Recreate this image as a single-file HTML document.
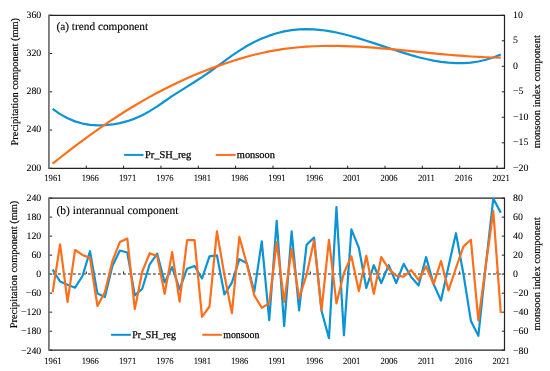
<!DOCTYPE html>
<html><head><meta charset="utf-8"><title>chart</title>
<style>html,body{margin:0;padding:0;background:#fff;}body{width:550px;height:371px;overflow:hidden;}svg{display:block;text-rendering:geometricPrecision;will-change:transform;}</style>
</head><body>
<svg width="550" height="371" viewBox="0 0 550 371" font-family='"Liberation Serif", serif'><rect width="550" height="371" fill="#fff"/><path d="M52.6,108.89 L60.1,114.11 L67.6,118.25 L75.0,121.38 L82.5,123.56 L90.0,124.89 L97.4,125.43 L104.9,125.26 L112.4,124.46 L119.9,123.10 L127.3,121.18 L134.8,118.60 L142.3,115.27 L149.7,111.11 L157.2,106.32 L164.7,101.24 L172.1,96.19 L179.6,91.36 L187.1,86.65 L194.5,81.95 L202.0,77.11 L209.5,72.01 L216.9,66.58 L224.4,61.04 L231.9,55.62 L239.4,50.59 L246.8,46.06 L254.3,42.06 L261.8,38.59 L269.2,35.65 L276.7,33.24 L284.2,31.38 L291.6,30.07 L299.1,29.31 L306.6,29.08 L314.0,29.33 L321.5,30.03 L329.0,31.11 L336.5,32.53 L343.9,34.25 L351.4,36.21 L358.9,38.38 L366.3,40.69 L373.8,43.12 L381.3,45.60 L388.7,48.09 L396.2,50.54 L403.7,52.91 L411.1,55.15 L418.6,57.20 L426.1,59.03 L433.5,60.59 L441.0,61.82 L448.5,62.68 L456.0,63.13 L463.4,63.12 L470.9,62.59 L478.4,61.50 L485.8,59.80 L493.3,57.46 L500.8,54.41" fill="none" stroke="#0a93d5" stroke-width="2.2" stroke-linejoin="round"/><path d="M52.6,163.70 L60.1,157.75 L67.6,151.91 L75.0,146.20 L82.5,140.60 L90.0,135.15 L97.4,129.83 L104.9,124.66 L112.4,119.64 L119.9,114.77 L127.3,110.05 L134.8,105.50 L142.3,101.11 L149.7,96.88 L157.2,92.83 L164.7,88.94 L172.1,85.23 L179.6,81.68 L187.1,78.31 L194.5,75.10 L202.0,72.05 L209.5,69.15 L216.9,66.38 L224.4,63.74 L231.9,61.23 L239.4,58.89 L246.8,56.72 L254.3,54.74 L261.8,52.97 L269.2,51.41 L276.7,50.06 L284.2,48.92 L291.6,47.98 L299.1,47.23 L306.6,46.66 L314.0,46.25 L321.5,46.00 L329.0,45.90 L336.5,45.93 L343.9,46.08 L351.4,46.34 L358.9,46.71 L366.3,47.16 L373.8,47.68 L381.3,48.28 L388.7,48.93 L396.2,49.62 L403.7,50.34 L411.1,51.09 L418.6,51.85 L426.1,52.60 L433.5,53.35 L441.0,54.06 L448.5,54.75 L456.0,55.39 L463.4,55.97 L470.9,56.48 L478.4,56.92 L485.8,57.26 L493.3,57.50 L500.8,57.62" fill="none" stroke="#ff6e1a" stroke-width="2.2" stroke-linejoin="round"/><line x1="48.9" y1="15.30" x2="52.1" y2="15.30" stroke="#222" stroke-width="1"/><text x="41.3" y="17.85" font-size="9.9" text-anchor="end" fill="#000" stroke="#000" stroke-width="0.06">360</text><line x1="48.9" y1="53.55" x2="52.1" y2="53.55" stroke="#222" stroke-width="1"/><text x="41.3" y="56.05" font-size="9.9" text-anchor="end" fill="#000" stroke="#000" stroke-width="0.06">320</text><line x1="48.9" y1="91.80" x2="52.1" y2="91.80" stroke="#222" stroke-width="1"/><text x="41.3" y="94.25" font-size="9.9" text-anchor="end" fill="#000" stroke="#000" stroke-width="0.06">280</text><line x1="48.9" y1="130.05" x2="52.1" y2="130.05" stroke="#222" stroke-width="1"/><text x="41.3" y="132.45" font-size="9.9" text-anchor="end" fill="#000" stroke="#000" stroke-width="0.06">240</text><line x1="48.9" y1="168.30" x2="52.1" y2="168.30" stroke="#222" stroke-width="1"/><text x="41.3" y="170.65" font-size="9.9" text-anchor="end" fill="#000" stroke="#000" stroke-width="0.06">200</text><line x1="501.8" y1="15.30" x2="504.5" y2="15.30" stroke="#222" stroke-width="1"/><text x="513" y="17.85" font-size="9.9" fill="#000" stroke="#000" stroke-width="0.06">10</text><line x1="501.8" y1="40.80" x2="504.5" y2="40.80" stroke="#222" stroke-width="1"/><text x="513" y="43.32" font-size="9.9" fill="#000" stroke="#000" stroke-width="0.06">5</text><line x1="501.8" y1="66.30" x2="504.5" y2="66.30" stroke="#222" stroke-width="1"/><text x="513" y="68.78" font-size="9.9" fill="#000" stroke="#000" stroke-width="0.06">0</text><line x1="501.8" y1="91.80" x2="504.5" y2="91.80" stroke="#222" stroke-width="1"/><text x="513" y="94.25" font-size="9.9" fill="#000" stroke="#000" stroke-width="0.06">−5</text><line x1="501.8" y1="117.30" x2="504.5" y2="117.30" stroke="#222" stroke-width="1"/><text x="513" y="119.72" font-size="9.9" fill="#000" stroke="#000" stroke-width="0.06">−10</text><line x1="501.8" y1="142.80" x2="504.5" y2="142.80" stroke="#222" stroke-width="1"/><text x="513" y="145.18" font-size="9.9" fill="#000" stroke="#000" stroke-width="0.06">−15</text><line x1="501.8" y1="168.30" x2="504.5" y2="168.30" stroke="#222" stroke-width="1"/><text x="513" y="170.65" font-size="9.9" fill="#000" stroke="#000" stroke-width="0.06">−20</text><line x1="86.24" y1="165.70000000000002" x2="86.24" y2="168.3" stroke="#222" stroke-width="1"/><line x1="123.59" y1="165.70000000000002" x2="123.59" y2="168.3" stroke="#222" stroke-width="1"/><line x1="160.93" y1="165.70000000000002" x2="160.93" y2="168.3" stroke="#222" stroke-width="1"/><line x1="198.28" y1="165.70000000000002" x2="198.28" y2="168.3" stroke="#222" stroke-width="1"/><line x1="235.62" y1="165.70000000000002" x2="235.62" y2="168.3" stroke="#222" stroke-width="1"/><line x1="272.97" y1="165.70000000000002" x2="272.97" y2="168.3" stroke="#222" stroke-width="1"/><line x1="310.31" y1="165.70000000000002" x2="310.31" y2="168.3" stroke="#222" stroke-width="1"/><line x1="347.65" y1="165.70000000000002" x2="347.65" y2="168.3" stroke="#222" stroke-width="1"/><line x1="385.00" y1="165.70000000000002" x2="385.00" y2="168.3" stroke="#222" stroke-width="1"/><line x1="422.34" y1="165.70000000000002" x2="422.34" y2="168.3" stroke="#222" stroke-width="1"/><line x1="459.69" y1="165.70000000000002" x2="459.69" y2="168.3" stroke="#222" stroke-width="1"/><line x1="497.03" y1="165.70000000000002" x2="497.03" y2="168.3" stroke="#222" stroke-width="1"/><text transform="translate(52.93,180.60) scale(0.93,1)" font-size="9.3" text-anchor="middle" fill="#000" stroke="#000" stroke-width="0.06">1961</text><text transform="translate(90.28,180.60) scale(0.93,1)" font-size="9.3" text-anchor="middle" fill="#000" stroke="#000" stroke-width="0.06">1966</text><text transform="translate(127.62,180.60) scale(0.93,1)" font-size="9.3" text-anchor="middle" fill="#000" stroke="#000" stroke-width="0.06">1971</text><text transform="translate(164.97,180.60) scale(0.93,1)" font-size="9.3" text-anchor="middle" fill="#000" stroke="#000" stroke-width="0.06">1976</text><text transform="translate(202.31,180.60) scale(0.93,1)" font-size="9.3" text-anchor="middle" fill="#000" stroke="#000" stroke-width="0.06">1981</text><text transform="translate(239.66,180.60) scale(0.93,1)" font-size="9.3" text-anchor="middle" fill="#000" stroke="#000" stroke-width="0.06">1986</text><text transform="translate(277.00,180.60) scale(0.93,1)" font-size="9.3" text-anchor="middle" fill="#000" stroke="#000" stroke-width="0.06">1991</text><text transform="translate(314.34,180.60) scale(0.93,1)" font-size="9.3" text-anchor="middle" fill="#000" stroke="#000" stroke-width="0.06">1996</text><text transform="translate(351.69,180.60) scale(0.93,1)" font-size="9.3" text-anchor="middle" fill="#000" stroke="#000" stroke-width="0.06">2001</text><text transform="translate(389.03,180.60) scale(0.93,1)" font-size="9.3" text-anchor="middle" fill="#000" stroke="#000" stroke-width="0.06">2006</text><text transform="translate(426.38,180.60) scale(0.93,1)" font-size="9.3" text-anchor="middle" fill="#000" stroke="#000" stroke-width="0.06">2011</text><text transform="translate(463.72,180.60) scale(0.93,1)" font-size="9.3" text-anchor="middle" fill="#000" stroke="#000" stroke-width="0.06">2016</text><text transform="translate(501.07,180.60) scale(0.93,1)" font-size="9.3" text-anchor="middle" fill="#000" stroke="#000" stroke-width="0.06">2021</text><path d="M48.9,15.3 H504.5 V168.3 H48.9" fill="none" stroke="#222" stroke-width="1.2"/><line x1="48.9" y1="14.700000000000001" x2="48.9" y2="168.9" stroke="#777" stroke-width="1.8"/><text x="56.5" y="30.4" font-size="11.3" fill="#000" stroke="#000" stroke-width="0.12">(a) trend component</text><line x1="124.1" y1="154.9" x2="143.5" y2="154.9" stroke="#0a93d5" stroke-width="2"/><text transform="translate(145.0,158.3) scale(1.0,1)" font-size="10.4" fill="#000" stroke="#000" stroke-width="0.25">Pr_SH_reg</text><line x1="215.7" y1="154.9" x2="235.7" y2="154.9" stroke="#ff6e1a" stroke-width="2"/><text transform="translate(236.8,158.3) scale(1.0,1)" font-size="10.4" fill="#000" stroke="#000" stroke-width="0.25">monsoon</text><line x1="48.9" y1="198.10" x2="52.1" y2="198.10" stroke="#222" stroke-width="1"/><text x="41.3" y="200.90" font-size="9.9" text-anchor="end" fill="#000" stroke="#000" stroke-width="0.06">240</text><line x1="48.9" y1="217.11" x2="52.1" y2="217.11" stroke="#222" stroke-width="1"/><text x="41.3" y="219.98" font-size="9.9" text-anchor="end" fill="#000" stroke="#000" stroke-width="0.06">180</text><line x1="48.9" y1="236.12" x2="52.1" y2="236.12" stroke="#222" stroke-width="1"/><text x="41.3" y="239.06" font-size="9.9" text-anchor="end" fill="#000" stroke="#000" stroke-width="0.06">120</text><line x1="48.9" y1="255.14" x2="52.1" y2="255.14" stroke="#222" stroke-width="1"/><text x="41.3" y="258.14" font-size="9.9" text-anchor="end" fill="#000" stroke="#000" stroke-width="0.06">60</text><line x1="48.9" y1="274.15" x2="52.1" y2="274.15" stroke="#222" stroke-width="1"/><text x="41.3" y="277.22" font-size="9.9" text-anchor="end" fill="#000" stroke="#000" stroke-width="0.06">0</text><line x1="48.9" y1="293.16" x2="52.1" y2="293.16" stroke="#222" stroke-width="1"/><text x="41.3" y="296.30" font-size="9.9" text-anchor="end" fill="#000" stroke="#000" stroke-width="0.06">−60</text><line x1="48.9" y1="312.17" x2="52.1" y2="312.17" stroke="#222" stroke-width="1"/><text x="41.3" y="315.38" font-size="9.9" text-anchor="end" fill="#000" stroke="#000" stroke-width="0.06">−120</text><line x1="48.9" y1="331.19" x2="52.1" y2="331.19" stroke="#222" stroke-width="1"/><text x="41.3" y="334.46" font-size="9.9" text-anchor="end" fill="#000" stroke="#000" stroke-width="0.06">−180</text><line x1="48.9" y1="350.20" x2="52.1" y2="350.20" stroke="#222" stroke-width="1"/><text x="41.3" y="353.54" font-size="9.9" text-anchor="end" fill="#000" stroke="#000" stroke-width="0.06">−240</text><line x1="501.8" y1="198.10" x2="504.5" y2="198.10" stroke="#222" stroke-width="1"/><text x="513" y="200.90" font-size="9.9" fill="#000" stroke="#000" stroke-width="0.06">80</text><line x1="501.8" y1="217.11" x2="504.5" y2="217.11" stroke="#222" stroke-width="1"/><text x="513" y="219.98" font-size="9.9" fill="#000" stroke="#000" stroke-width="0.06">60</text><line x1="501.8" y1="236.12" x2="504.5" y2="236.12" stroke="#222" stroke-width="1"/><text x="513" y="239.06" font-size="9.9" fill="#000" stroke="#000" stroke-width="0.06">40</text><line x1="501.8" y1="255.14" x2="504.5" y2="255.14" stroke="#222" stroke-width="1"/><text x="513" y="258.14" font-size="9.9" fill="#000" stroke="#000" stroke-width="0.06">20</text><line x1="501.8" y1="274.15" x2="504.5" y2="274.15" stroke="#222" stroke-width="1"/><text x="513" y="277.22" font-size="9.9" fill="#000" stroke="#000" stroke-width="0.06">0</text><line x1="501.8" y1="293.16" x2="504.5" y2="293.16" stroke="#222" stroke-width="1"/><text x="513" y="296.30" font-size="9.9" fill="#000" stroke="#000" stroke-width="0.06">−20</text><line x1="501.8" y1="312.17" x2="504.5" y2="312.17" stroke="#222" stroke-width="1"/><text x="513" y="315.38" font-size="9.9" fill="#000" stroke="#000" stroke-width="0.06">−40</text><line x1="501.8" y1="331.19" x2="504.5" y2="331.19" stroke="#222" stroke-width="1"/><text x="513" y="334.46" font-size="9.9" fill="#000" stroke="#000" stroke-width="0.06">−60</text><line x1="501.8" y1="350.20" x2="504.5" y2="350.20" stroke="#222" stroke-width="1"/><text x="513" y="353.54" font-size="9.9" fill="#000" stroke="#000" stroke-width="0.06">−80</text><line x1="86.24" y1="271.4" x2="86.24" y2="274.0" stroke="#222" stroke-width="1"/><line x1="123.59" y1="271.4" x2="123.59" y2="274.0" stroke="#222" stroke-width="1"/><line x1="160.93" y1="271.4" x2="160.93" y2="274.0" stroke="#222" stroke-width="1"/><line x1="198.28" y1="271.4" x2="198.28" y2="274.0" stroke="#222" stroke-width="1"/><line x1="235.62" y1="271.4" x2="235.62" y2="274.0" stroke="#222" stroke-width="1"/><line x1="272.97" y1="271.4" x2="272.97" y2="274.0" stroke="#222" stroke-width="1"/><line x1="310.31" y1="271.4" x2="310.31" y2="274.0" stroke="#222" stroke-width="1"/><line x1="347.65" y1="271.4" x2="347.65" y2="274.0" stroke="#222" stroke-width="1"/><line x1="385.00" y1="271.4" x2="385.00" y2="274.0" stroke="#222" stroke-width="1"/><line x1="422.34" y1="271.4" x2="422.34" y2="274.0" stroke="#222" stroke-width="1"/><line x1="459.69" y1="271.4" x2="459.69" y2="274.0" stroke="#222" stroke-width="1"/><line x1="497.03" y1="271.4" x2="497.03" y2="274.0" stroke="#222" stroke-width="1"/><text transform="translate(52.93,363.60) scale(0.93,1)" font-size="9.3" text-anchor="middle" fill="#000" stroke="#000" stroke-width="0.06">1961</text><text transform="translate(90.28,363.60) scale(0.93,1)" font-size="9.3" text-anchor="middle" fill="#000" stroke="#000" stroke-width="0.06">1966</text><text transform="translate(127.62,363.60) scale(0.93,1)" font-size="9.3" text-anchor="middle" fill="#000" stroke="#000" stroke-width="0.06">1971</text><text transform="translate(164.97,363.60) scale(0.93,1)" font-size="9.3" text-anchor="middle" fill="#000" stroke="#000" stroke-width="0.06">1976</text><text transform="translate(202.31,363.60) scale(0.93,1)" font-size="9.3" text-anchor="middle" fill="#000" stroke="#000" stroke-width="0.06">1981</text><text transform="translate(239.66,363.60) scale(0.93,1)" font-size="9.3" text-anchor="middle" fill="#000" stroke="#000" stroke-width="0.06">1986</text><text transform="translate(277.00,363.60) scale(0.93,1)" font-size="9.3" text-anchor="middle" fill="#000" stroke="#000" stroke-width="0.06">1991</text><text transform="translate(314.34,363.60) scale(0.93,1)" font-size="9.3" text-anchor="middle" fill="#000" stroke="#000" stroke-width="0.06">1996</text><text transform="translate(351.69,363.60) scale(0.93,1)" font-size="9.3" text-anchor="middle" fill="#000" stroke="#000" stroke-width="0.06">2001</text><text transform="translate(389.03,363.60) scale(0.93,1)" font-size="9.3" text-anchor="middle" fill="#000" stroke="#000" stroke-width="0.06">2006</text><text transform="translate(426.38,363.60) scale(0.93,1)" font-size="9.3" text-anchor="middle" fill="#000" stroke="#000" stroke-width="0.06">2011</text><text transform="translate(463.72,363.60) scale(0.93,1)" font-size="9.3" text-anchor="middle" fill="#000" stroke="#000" stroke-width="0.06">2016</text><text transform="translate(501.07,363.60) scale(0.93,1)" font-size="9.3" text-anchor="middle" fill="#000" stroke="#000" stroke-width="0.06">2021</text><line x1="48.9" y1="274.0" x2="504.5" y2="274.0" stroke="#6a6a6a" stroke-width="1.5" stroke-dasharray="2.8,2.2" stroke-dashoffset="0.9"/><path d="M48.9,198.1 H504.5 V350.2 H48.9" fill="none" stroke="#222" stroke-width="1.2"/><line x1="48.9" y1="197.5" x2="48.9" y2="350.8" stroke="#777" stroke-width="1.8"/><text x="56.5" y="214.1" font-size="11.5" fill="#000" stroke="#000" stroke-width="0.12">(b) interannual component</text><line x1="111.1" y1="334.8" x2="130.9" y2="334.8" stroke="#0a93d5" stroke-width="2"/><text transform="translate(132.2,338.2) scale(0.945,1)" font-size="10.4" fill="#000" stroke="#000" stroke-width="0.25">Pr_SH_reg</text><line x1="202.3" y1="334.8" x2="221.9" y2="334.8" stroke="#ff6e1a" stroke-width="2"/><text transform="translate(223.3,338.2) scale(0.945,1)" font-size="10.4" fill="#000" stroke="#000" stroke-width="0.25">monsoon</text><clipPath id="cb"><rect x="47.9" y="197.4" width="457.6" height="153.5"/></clipPath><g clip-path="url(#cb)"><polyline points="52.63,269.6 60.10,281.5 67.57,284.7 75.04,287.7 82.51,276.0 89.98,251.2 97.45,293.6 104.92,297.0 112.39,266.1 119.85,250.5 127.32,252.5 134.79,295.4 142.26,288.7 149.73,264.3 157.20,253.7 164.67,282.5 172.14,267.1 179.60,289.4 187.07,268.7 194.54,266.0 202.01,278.5 209.48,256.4 216.95,255.3 224.42,294.5 231.89,282.6 239.36,259.1 246.82,263.2 254.29,291.7 261.76,241.4 269.23,320.2 276.70,220.8 284.17,326.2 291.64,231.3 299.11,310.5 306.58,244.8 314.04,237.6 321.51,310.8 328.98,338.2 336.45,207.2 343.92,335.3 351.39,229.4 358.86,247.9 366.33,288.0 373.80,265.2 381.26,283.0 388.73,265.2 396.20,283.0 403.67,263.8 411.14,277.0 418.61,285.5 426.08,257.0 433.55,284.0 441.01,300.6 448.48,266.5 455.95,233.2 463.42,274.0 470.89,320.9 478.36,335.8 485.83,265.0 493.30,198.6 500.77,212.8" fill="none" stroke="#0a93d5" stroke-width="2.2" stroke-linejoin="round"/><polyline points="52.63,292.3 60.10,244.4 67.57,301.9 75.04,250.0 82.51,254.9 89.98,258.0 97.45,306.0 104.92,292.1 112.39,261.2 119.85,242.1 127.32,238.6 134.79,309.1 142.26,271.5 149.73,253.2 157.20,256.1 164.67,293.9 172.14,252.2 179.60,301.7 187.07,240.2 194.54,240.2 202.01,316.9 209.48,306.5 216.95,231.4 224.42,275.2 231.89,313.1 239.36,236.9 246.82,264.0 254.29,295.4 261.76,307.8 269.23,303.4 276.70,242.0 284.17,301.9 291.64,249.0 299.11,298.0 306.58,274.8 314.04,240.6 321.51,310.1 328.98,239.8 336.45,303.4 343.92,273.0 351.39,256.3 358.86,291.1 366.33,255.8 373.80,293.8 381.26,257.1 388.73,268.9 396.20,275.6 403.67,276.7 411.14,270.1 418.61,280.0 426.08,266.3 433.55,284.1 441.01,261.1 448.48,290.5 455.95,268.0 463.42,246.6 470.89,239.8 478.36,320.3 485.83,265.2 493.30,211.0 500.77,313.0" fill="none" stroke="#ff6e1a" stroke-width="2.2" stroke-linejoin="round"/></g><text transform="translate(17.8,81.7) rotate(-90)" font-size="10.4" text-anchor="middle" fill="#000" stroke="#000" stroke-width="0.18">Precipitation component (mm)</text><text transform="translate(540.2,91.7) rotate(-90)" font-size="10.45" text-anchor="middle" fill="#000" stroke="#000" stroke-width="0.18">monsoon index component</text><text transform="translate(17.3,264.5) rotate(-90)" font-size="10.4" text-anchor="middle" fill="#000" stroke="#000" stroke-width="0.18">Precipitation component (mm)</text><text transform="translate(540.0,273.85) rotate(-90)" font-size="10.45" text-anchor="middle" fill="#000" stroke="#000" stroke-width="0.18">monsoon index component</text></svg>
</body></html>
